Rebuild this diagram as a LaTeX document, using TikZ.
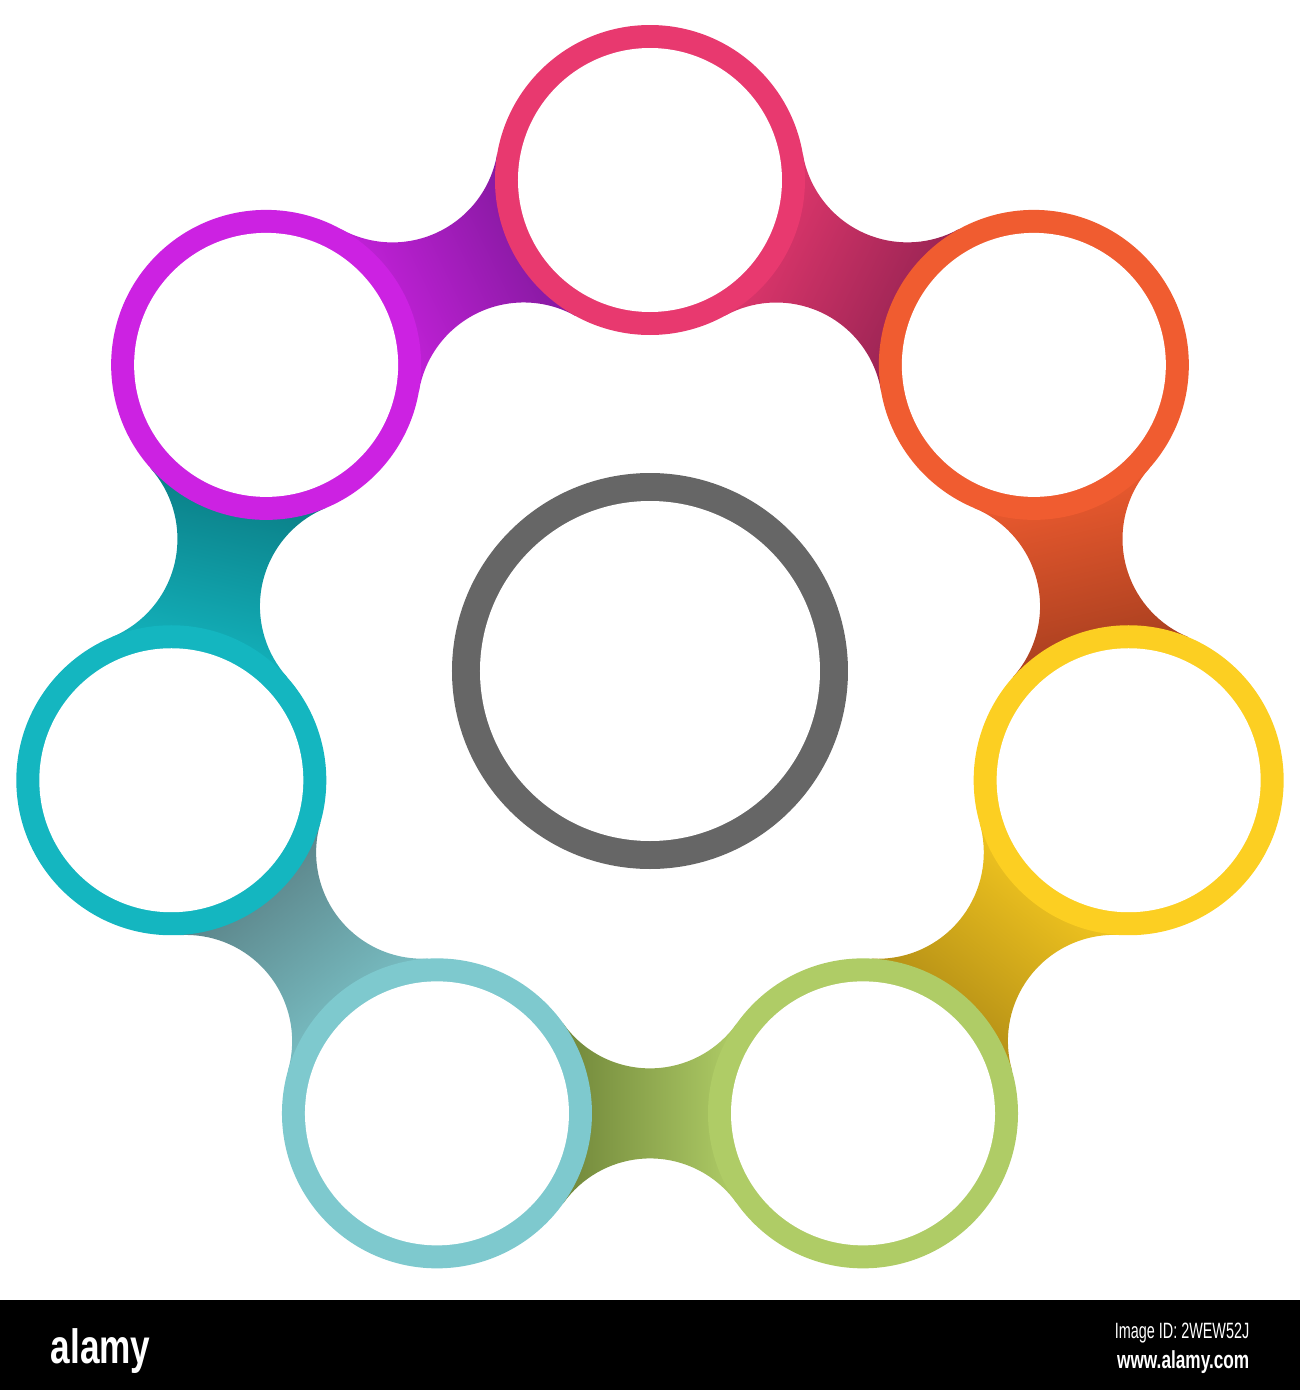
\documentclass[tikz,border=0pt]{standalone}
\usepackage{fontspec}
\setmainfont{Liberation Sans}
\usepackage{tikz}
\usetikzlibrary{calc}
\definecolor{cpink}{HTML}{E8396F}
\definecolor{corange}{HTML}{F05C30}
\definecolor{cyellow}{HTML}{FCCF22}
\definecolor{cgreen}{HTML}{AFCC66}
\definecolor{clblue}{HTML}{7EC9CE}
\definecolor{cteal}{HTML}{14B6C0}
\definecolor{cmagenta}{HTML}{CC22E2}
\definecolor{dpink}{HTML}{8E2150}
\definecolor{dorange}{HTML}{A33D1E}
\definecolor{dyellow}{HTML}{A98514}
\definecolor{dgreen}{HTML}{71873A}
\definecolor{dlblue}{HTML}{56797E}
\definecolor{dteal}{HTML}{0A7A82}
\definecolor{dmagenta}{HTML}{7B1896}
\definecolor{hubgray}{HTML}{666666}
% neck from circle at angle #1 to the next one clockwise
\newcommand{\neck}[3]{\begin{scope}[shift={({#1-25.714}:442.4)}, rotate=#1-115.714]
  \shade[top color=#2, bottom color=#3, shading angle=#1-25.714]
    (-86.6,89.7) arc[start angle=215.4, end angle=324.6, radius=106.2]
    -- (86.6,-89.7) arc[start angle=35.4, end angle=144.6, radius=106.2] -- cycle;
\end{scope}}
\newcommand{\ring}[2]{\fill[#2] (#1:491) circle[radius=155]; \fill[white] (#1:491) circle[radius=132];}

\begin{document}
\begin{tikzpicture}[x=0.01cm, y=0.01cm]
        \useasboundingbox (-650,-719) rectangle (650,671);
        % necks
        \neck{90}{cpink}{dpink}
        \neck{38.571}{corange}{dorange}
        \neck{-12.857}{cyellow}{dyellow}
        \neck{-64.286}{cgreen}{dgreen}
        \neck{-115.714}{clblue}{dlblue}
        \neck{-167.143}{cteal}{dteal}
        \neck{141.429}{cmagenta}{dmagenta}
        % rings
        \ring{90}{cpink}
        \ring{38.571}{corange}
        \ring{-12.857}{cyellow}
        \ring{-64.286}{cgreen}
        \ring{-115.714}{clblue}
        \ring{-167.143}{cteal}
        \ring{141.429}{cmagenta}
        % hub
        \fill[hubgray] (0,0) circle[radius=198];
        \fill[white] (0,0) circle[radius=170];
        % footer
        \fill[black] (-650,-719) rectangle (650,-629);
        \node[anchor=base west, inner sep=0, text=white,
              font=\bfseries\fontsize{13.7}{14}\selectfont] (logo) at (-600,-692)
              {\scalebox{0.73}[1]{alamy}};
        \node[anchor=base east, inner sep=0, text=white,
              font=\fontsize{6.3}{7}\selectfont] (imgid) at (600,-667)
              {\scalebox{0.65}[1]{Image ID: 2WEW52J}};
        \node[anchor=base east, inner sep=0, text=white,
              font=\bfseries\fontsize{7}{8}\selectfont] (site) at (600,-697)
              {\scalebox{0.7}[1]{www.alamy.com}};
    \end{tikzpicture}
\end{document}
